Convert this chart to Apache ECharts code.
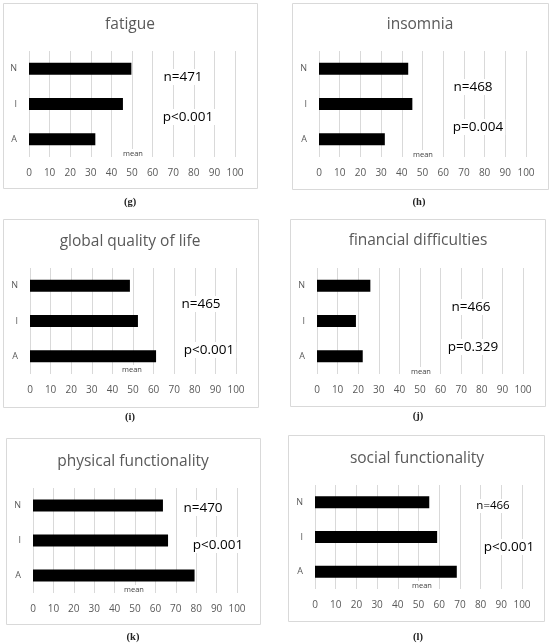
<!DOCTYPE html>
<html>
<head>
<meta charset="utf-8">
<script src="https://cdn.jsdelivr.net/npm/echarts@6/dist/echarts.min.js"></script>
<style>html,body{margin:0;padding:0;background:#fff}#c{width:550px;height:643px}</style>
</head>
<body>
<div id="c"></div>
<script>
// ---- data ----
const categories = ['A', 'I', 'N'];
const fatigue   = [32.2, 45.6, 49.7];
const insomnia  = [31.8, 45.1, 43.1];
const globalQoL = [61.2, 52.4, 48.5];
const financial = [22.2, 18.9, 25.9];
const physical  = [79.2, 66.2, 63.7];
const social    = [68.5, 59.0, 55.2];
const panelTitles = ['fatigue', 'insomnia', 'global quality of life', 'financial difficulties', 'physical functionality', 'social functionality'];
const nLabels  = ['n=471', 'n=468', 'n=465', 'n=466', 'n=470', 'n=466'];
const pLabels  = ['p<0.001', 'p=0.004', 'p<0.001', 'p=0.329', 'p<0.001', 'p<0.001'];
const captions = ['(g)', '(h)', '(i)', '(j)', '(k)', '(l)'];
const xMin = 0, xMax = 100, xStep = 10;
const seriesData = [fatigue, insomnia, globalQoL, financial, physical, social];

// ---- layout ----
const grids = [
  {left: 29, top: 51, width: 206, height: 106},
  {left: 319, top: 51, width: 207, height: 106},
  {left: 30, top: 268, width: 206, height: 106},
  {left: 317, top: 268, width: 206, height: 106},
  {left: 33, top: 488, width: 204, height: 105},
  {left: 315, top: 485, width: 207, height: 104}
];
const boxes = [
  [3, 3, 254, 185], [292, 3, 256, 186],
  [3, 219, 255, 188], [290, 219, 255, 187],
  [6, 438, 254, 186], [288, 435, 256, 186]
];
const titlePos = [[130, 25], [420, 25], [130, 242], [418, 241], [133, 462], [417, 459]];
const nPos = [[183, 77], [473, 87], [201, 304], [471, 307], [203, 508], [493, 506]];
const nSize = [13.5, 13.5, 13.5, 13.5, 13.5, 11.5];
const pPos = [[188, 117], [478, 127], [209, 350], [473, 347], [218, 545], [509, 547]];
const meanPos = [[133, 154], [423, 155], [132, 370], [421, 372], [134, 590], [422, 586]];
const capPos = [[130, 202], [419, 202], [130, 417], [418, 416], [133, 637], [418, 637]];

const FONT = '"Open Sans", sans-serif';
const GRAY = '#595959';

const option = {
  animation: false,
  grid: grids.map(g => Object.assign({containLabel: false}, g)),
  xAxis: grids.map((g, i) => ({
    gridIndex: i, type: 'value', min: xMin, max: xMax, interval: xStep,
    axisLine: {show: false}, axisTick: {show: false},
    splitLine: {show: true, lineStyle: {color: '#d9d9d9', width: 1}},
    axisLabel: {color: GRAY, fontSize: 10, fontFamily: FONT, margin: 11}
  })),
  yAxis: grids.map((g, i) => ({
    gridIndex: i, type: 'category', data: categories,
    axisLine: {show: false}, axisTick: {show: false},
    axisLabel: {color: GRAY, fontSize: 9, fontFamily: FONT, margin: 12}
  })),
  series: seriesData.map((d, i) => ({
    type: 'bar', xAxisIndex: i, yAxisIndex: i, data: d,
    barWidth: 12, itemStyle: {color: '#000'}, silent: true
  })),
  graphic: []
};

for (let i = 0; i < 6; i++) {
  const b = boxes[i];
  option.graphic.push({type: 'rect', silent: true, z: -1,
    shape: {x: b[0] + 0.5, y: b[1] + 0.5, width: b[2], height: b[3]},
    style: {fill: 'none', stroke: '#d9d9d9', lineWidth: 1}});
  const txt = (pos, text, size, color, family, weight, bg) => {
    const style = {text: text, fill: color, font: (weight || 'normal') + ' ' + size + 'px ' + family,
      align: 'center', verticalAlign: 'middle'};
    if (bg) { style.backgroundColor = '#fff'; style.padding = [1, 2]; }
    return {type: 'text', silent: true, x: pos[0], y: pos[1], z: 100, style: style};
  };
  option.graphic.push(txt(titlePos[i], panelTitles[i], 15.5, GRAY, FONT));
  option.graphic.push(txt(nPos[i], nLabels[i], nSize[i], '#000', FONT, 'normal', true));
  option.graphic.push(txt(pPos[i], pLabels[i], 13.5, '#000', FONT, 'normal', true));
  option.graphic.push(txt(meanPos[i], 'mean', 7.5, '#404040', FONT, 'normal', true));
  option.graphic.push(txt(capPos[i], captions[i], 10.5, '#222', '"Liberation Serif", serif', 'bold'));
}

const chart = echarts.init(document.getElementById('c'), null, {renderer: 'canvas'});
chart.setOption(option);
</script>
</body>
</html>
